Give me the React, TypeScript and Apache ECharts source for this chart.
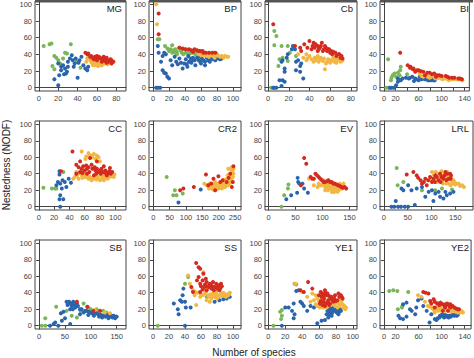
import React, { useEffect, useRef } from 'react';
import * as echarts from 'echarts';

// ---------- data ----------
const panelNames = ['MG', 'BP', 'Cb', 'BI', 'CC', 'CR2', 'EV', 'LRL', 'SB', 'SS', 'YE1', 'YE2'];
const yTicks = [0, 20, 40, 60, 80, 100];

const xTicks20to80 = [0, 20, 40, 60, 80];
const xTicks20to100 = [0, 20, 40, 60, 80, 100];
const xTicks140 = [0, 20, 40, 60, 80, 100, 120, 140];
const xLabels140 = [0, 20, 60, 100, 140];
const xTicks50to150 = [0, 50, 100, 150];
const xTicks50to250 = [0, 50, 100, 150, 200, 250];

const mgGreen = [[5,50],[11,52],[13,53],[33,52],[16,38],[18,36],[14,26],[16,22],[27,42],[29,41],[22,29],[39,31],[43,24],[25,35],[20,33]];
const mgBlue = [[16,10],[20,3],[21,15],[23,21],[25,27],[29,19],[30,31],[32,35],[34,39],[36,25],[37,29],[40,12],[42,33],[44,37],[46,27],[48,23],[50,21],[51,25],[20,29],[23,25],[27,23],[30,25],[35,33],[38,35],[41,30],[26,16],[28,17]];
const mgOrange = [[51,39],[53,33],[55,29],[58,27],[62,29],[65,27],[68,29],[70,29],[49,31],[56,31],[60,30],[63,32],[67,31],[52,37],[56,27],[59,33],[64,30],[61,26],[57,30],[60,28],[63,27],[66,29],[69,30],[71,28],[54,31],[58,32],[62,33],[66,33],[50,35],[55,34]];
const mgRed = [[48,42],[50,40],[58,37],[63,36],[67,37],[70,36],[74,34],[76,31],[75,29],[60,33],[68,32],[72,31],[65,31],[62,37],[56,35],[53,37],[66,34],[71,33],[57,34],[61,35],[64,35],[67,35],[69,34],[73,32],[75,33],[77,31],[54,38],[51,41],[60,38],[70,30]];

const bpGreen = [[6,58],[8,58],[15,50],[24,51],[20,44],[28,42],[35,44],[41,42],[49,42],[57,42],[65,42],[76,42],[33,48],[39,46],[24,42],[45,40],[30,40],[53,40],[18,47],[22,46],[26,45],[30,43],[36,42],[43,44],[47,42],[52,42],[55,41],[60,40],[62,41],[68,40],[72,40],[80,40],[28,46],[38,40]];
const bpBlue = [[4,0],[6,0],[9,0],[6,50],[7,42],[10,31],[12,21],[14,18],[16,17],[18,13],[20,11],[12,38],[14,42],[16,40],[24,27],[29,31],[33,35],[37,23],[39,29],[44,38],[45,31],[49,33],[53,27],[57,33],[61,35],[65,27],[69,33],[73,35],[78,33],[82,35],[65,31],[57,37],[41,34],[50,36],[22,33],[27,37],[31,28],[35,30],[42,28],[47,35],[52,33],[55,36],[59,31],[63,33],[67,36],[71,31],[75,34],[80,36],[84,34],[60,29],[43,25],[48,30],[86,35]];
const bpOrange = [[4,100],[5,76],[57,40],[67,38],[73,40],[82,38],[86,38],[90,38],[94,37],[78,41],[65,40],[88,36],[70,37],[60,39],[63,39],[70,39],[75,38],[80,39],[84,37],[92,37],[77,36]];
const bpRed = [[7,89],[7,64],[33,48],[41,46],[45,46],[55,45],[59,44],[63,42],[70,42],[78,42],[50,43],[37,47],[48,45],[52,46],[57,44],[66,42],[74,42],[62,44]];

const cbGreen = [[6,68],[8,62],[6,51],[13,50],[19,50],[11,34],[14,36],[10,26],[21,42],[19,32],[3,0],[27,38]];
const cbBlue = [[5,0],[6,0],[8,0],[13,2],[11,9],[14,9],[16,7],[16,19],[16,23],[14,33],[13,31],[18,36],[19,40],[23,46],[24,50],[26,46],[27,31],[29,33],[31,26],[32,29],[27,21],[34,11],[31,19]];
const cbOrange = [[29,40],[34,36],[37,33],[40,38],[45,36],[50,34],[53,32],[55,22],[58,34],[61,32],[65,34],[68,35],[71,32],[48,38],[44,31],[63,36],[56,29],[66,30],[37,40],[38,35],[42,34],[46,33],[49,31],[51,36],[54,35],[57,31],[59,33],[62,34],[64,31],[67,33],[69,34],[70,31],[72,33],[60,30],[47,36]];
const cbRed = [[5,76],[26,50],[31,48],[35,52],[40,56],[44,54],[48,50],[50,48],[52,54],[55,50],[58,46],[61,44],[65,42],[68,40],[71,38],[48,44],[42,46],[32,44],[53,44],[60,42],[56,48],[43,50],[46,52],[49,46],[51,50],[54,46],[57,44],[59,46],[62,40],[63,43],[66,38],[69,40],[70,36],[72,35],[38,48],[45,48]];

const biGreen = [[7,34],[12,9],[13,12],[15,15],[18,17],[24,18],[28,21],[29,25],[4,0],[8,0],[21,13],[27,15],[40,16]];
const biBlue = [[10,0],[13,0],[17,0],[21,3],[24,7],[29,9],[32,11],[38,12],[43,11],[49,13],[54,11],[60,9],[65,10],[71,10],[76,9],[82,10],[87,9],[24,11],[52,8],[62,13],[73,13],[85,11],[45,12],[56,10],[68,11],[79,9],[83,9],[88,9]];
const biOrange = [[62,17],[73,15],[85,14],[96,12],[107,11],[118,10],[129,10],[134,10],[101,10],[90,11],[79,12],[68,13],[112,9],[65,14],[76,13],[82,13],[88,12],[93,12],[99,12],[104,11],[110,11],[115,10],[121,10],[126,10],[131,10],[136,9]];
const biRed = [[28,42],[41,27],[46,25],[51,23],[60,21],[68,19],[79,18],[87,17],[96,15],[107,14],[118,12],[129,11],[54,19],[71,15],[90,13],[113,12],[45,24],[50,22],[57,21],[63,20],[75,18],[83,16],[92,15],[100,14],[110,13],[122,12],[132,11],[135,10]];

const ccGreen = [[6,23],[17,22],[21,22],[32,42],[23,22]];
const ccBlue = [[27,43],[27,39],[25,30],[23,26],[28,28],[30,22],[28,14],[27,9],[32,9],[28,0],[34,30],[36,24],[42,29],[39,34],[31,32]];
const ccOrange = [[56,67],[65,65],[69,62],[74,58],[78,60],[80,55],[61,58],[47,36],[52,34],[56,38],[61,36],[65,34],[69,32],[74,36],[78,34],[82,38],[87,36],[91,38],[96,39],[98,36],[85,32],[71,34],[49,42],[45,34],[80,32],[58,44],[90,34],[94,42],[50,38],[53,41],[57,35],[60,39],[63,37],[66,37],[68,35],[72,37],[75,33],[77,37],[83,35],[86,38],[88,35],[92,36],[95,37],[97,38],[99,39],[70,60],[72,64],[67,62],[62,61],[76,62],[84,40],[89,41]];
const ccRed = [[29,43],[44,67],[49,51],[54,55],[58,49],[63,46],[69,51],[74,44],[78,42],[82,46],[87,44],[91,41],[96,42],[54,42],[63,40],[72,38],[81,40],[89,38],[49,40],[67,59],[76,55],[85,49],[93,47],[52,48],[56,46],[60,44],[62,50],[65,48],[70,46],[73,48],[76,46],[80,44],[84,42],[88,40],[92,43],[94,40],[57,41],[66,42],[75,40]];

const cr2Green = [[41,36],[66,20],[61,14],[71,14],[90,16]];
const cr2Blue = [[77,5],[145,21]];
const cr2Orange = [[163,26],[173,28],[184,24],[194,26],[204,24],[214,26],[224,28],[229,32],[235,36],[240,42],[245,46],[240,48],[235,30],[219,24],[199,22],[179,22],[209,30],[189,30],[173,24],[229,46],[245,40],[156,28],[230,38],[215,32],[200,28],[168,26],[178,25],[182,28],[188,26],[193,23],[197,27],[203,27],[207,23],[212,28],[217,27],[222,25],[226,30],[232,34],[237,38],[242,44],[243,36],[238,32],[233,28],[228,26],[210,22],[192,21],[183,21],[170,22],[221,33],[227,38],[236,46]];
const cr2Red = [[82,20],[92,22],[124,24],[161,39],[168,26],[184,34],[199,37],[212,32],[224,30],[235,40],[245,49],[240,24],[189,20],[177,28],[205,30],[230,35],[243,30]];

const evGreen = [[24,0],[29,14],[36,22],[37,27]];
const evBlue = [[33,9],[42,14],[53,17],[54,35],[55,30],[63,28],[66,22],[73,17],[57,28]];
const evOrange = [[75,34],[84,26],[93,28],[99,26],[105,24],[111,22],[117,26],[123,24],[129,22],[135,22],[105,20],[117,18],[126,20],[132,28],[111,28],[102,32],[120,18],[128,26],[114,24],[108,26],[112,25],[115,22],[118,24],[121,22],[124,26],[127,24],[130,20],[133,24],[136,22],[138,24],[110,20],[114,28],[119,29],[125,21],[131,26],[96,26],[103,27],[107,22],[122,18],[128,18],[134,26],[139,28],[91,24]];
const evRed = [[66,59],[70,52],[60,26],[78,36],[87,40],[93,36],[99,32],[105,30],[111,32],[117,30],[123,28],[129,26],[135,24],[141,24],[84,34],[96,34],[102,30],[108,31],[114,30],[120,28],[126,27],[132,25],[138,23],[144,22],[90,38],[81,34]];

const lrlGreen = [[27,47],[29,26],[41,30],[80,20],[108,20],[122,22],[143,21]];
const lrlBlue = [[16,0],[22,0],[30,0],[36,0],[44,0],[51,0],[65,2],[25,7],[37,22],[51,26],[58,20],[69,22],[80,24],[87,12],[94,18],[101,20],[108,16],[118,12],[125,10],[132,14],[139,16],[104,7],[115,18],[129,18],[146,18],[41,20]];
const lrlOrange = [[101,42],[111,40],[118,36],[125,38],[132,36],[139,34],[146,32],[153,28],[164,26],[122,30],[136,28],[108,34],[97,32],[130,40],[145,28],[105,38],[113,38],[117,40],[120,34],[127,35],[129,38],[134,33],[137,37],[141,35],[143,31],[148,30],[150,27],[157,28],[160,25],[168,24],[112,30],[124,28],[131,28],[140,26],[109,42],[121,43],[133,42]];
const lrlRed = [[48,39],[62,42],[69,38],[77,32],[87,34],[97,36],[108,38],[118,40],[129,42],[139,40],[101,30],[115,32],[125,34],[136,34],[90,26],[84,30],[93,32],[104,34],[111,36],[121,36],[127,38],[133,40],[141,38],[107,30],[119,30],[131,32],[140,34],[72,35],[80,28]];

const sbGreen = [[5,0],[12,0],[12,9],[33,23],[53,18],[63,12],[86,27],[95,22],[111,20],[124,18],[73,10],[80,18],[100,20],[115,18],[130,16]];
const sbBlue = [[21,0],[28,2],[31,4],[37,0],[42,15],[47,17],[50,9],[53,29],[57,27],[60,20],[63,24],[66,29],[70,22],[73,27],[79,20],[86,16],[92,18],[99,16],[105,14],[111,15],[118,13],[124,12],[131,13],[137,11],[144,12],[150,11],[60,2],[44,6],[79,14],[95,13],[134,9],[147,9],[55,25],[62,27],[68,25],[75,24],[82,20],[89,18],[96,17],[102,15],[108,16],[114,14],[120,13],[127,13],[134,12],[140,12],[142,10],[146,11],[116,11],[122,10],[106,12],[128,11],[58,29],[65,20]];
const sbOrange = [[108,19],[118,18],[127,16],[137,15]];
const sbRed = [[73,29],[93,23],[105,18],[118,18]];

const ssGreen = [[6,0],[44,59],[40,51],[67,35]];
const ssBlue = [[40,0],[26,27],[31,20],[32,14],[34,31],[36,29],[38,45],[37,37],[40,29],[47,22],[41,22],[77,29],[83,31],[88,32],[92,33],[96,35]];
const ssOrange = [[44,61],[63,65],[46,51],[50,43],[52,37],[59,35],[65,39],[69,37],[73,33],[77,35],[81,37],[85,39],[89,37],[93,38],[96,40],[91,35],[79,41],[71,29],[54,25],[67,31],[75,39],[62,37],[66,41],[70,35],[72,38],[75,36],[78,37],[80,33],[83,36],[86,36],[88,40],[90,38],[92,36],[94,37],[95,38],[60,38],[56,40],[53,41],[68,45]];
const ssRed = [[54,76],[57,71],[59,69],[63,63],[55,55],[59,51],[64,47],[67,53],[71,51],[75,53],[79,51],[81,47],[83,43],[48,47],[50,41],[67,43],[73,45],[59,41],[85,51],[60,48],[62,55],[65,50],[68,48],[70,47],[72,50],[74,48],[77,47],[80,45],[82,49],[84,45],[86,48],[76,43],[62,44],[57,59],[66,57]];

const ye1Green = [[6,0],[14,17],[16,19],[15,8],[16,12],[31,51],[33,50]];
const ye1Blue = [[16,0],[20,22],[24,22],[28,18],[30,9],[31,14],[33,42],[36,43],[30,27],[38,29],[40,27],[42,24],[46,18],[50,24],[54,22],[58,3],[63,6],[67,7],[69,14],[73,16],[77,18],[81,16],[85,20],[75,22],[79,22],[71,10],[83,14],[70,18],[72,20],[74,20],[76,16],[78,20],[80,18],[82,20],[84,17],[86,18],[72,14],[75,12]];
const ye1Orange = [[32,51],[40,41],[46,35],[50,29],[54,31],[56,37],[58,33],[61,22],[65,22],[69,22],[71,31],[79,24],[83,27],[87,31],[89,22],[91,20],[85,35],[60,29],[52,39],[56,26],[58,24],[62,25],[66,25],[70,24],[74,25],[78,26],[82,22],[84,24],[86,27],[88,26],[90,24],[92,22],[80,28],[63,33],[67,30]];
const ye1Red = [[47,53],[38,43],[42,41],[52,45],[60,37],[63,35],[67,43],[69,37],[71,31],[65,29],[61,27],[75,35],[79,37],[83,39],[87,35],[73,27],[67,24],[77,29],[62,41],[64,39],[66,37],[68,40],[70,39],[72,36],[74,33],[76,31],[78,33],[80,30],[82,31],[84,35],[86,37],[88,33],[66,33],[70,28],[72,25],[62,30],[64,25],[68,27]];

const ye2Green = [[9,42],[16,43],[23,42],[42,41],[24,20],[31,22],[32,24]];
const ye2Blue = [[25,12],[28,9],[33,8],[39,11],[33,26],[39,28],[45,20],[48,18],[54,14],[59,31],[65,33],[68,24],[74,18],[79,4],[88,8],[91,7],[97,12],[103,12],[108,11],[114,12],[120,13],[126,12],[56,22],[82,14],[96,10],[100,12],[104,10],[106,13],[110,12],[112,10],[116,11],[118,13],[122,12],[124,14],[128,13],[101,14],[93,9]];
const ye2Orange = [[59,37],[65,35],[71,29],[76,24],[85,20],[94,18],[100,20],[108,20],[117,19],[122,18],[128,16],[134,18],[137,16],[88,16],[97,22],[79,23],[83,22],[87,19],[90,20],[96,19],[99,18],[103,20],[106,18],[110,19],[113,20],[116,17],[120,19],[124,17],[126,18],[130,18],[132,16],[135,17],[92,22]];
const ye2Red = [[68,41],[77,39],[82,27],[88,29],[94,27],[100,26],[105,24],[111,26],[117,24],[122,22],[128,20],[102,18],[111,18],[88,22],[92,27],[96,25],[98,28],[103,26],[107,25],[109,27],[113,24],[115,26],[119,24],[125,21],[130,20],[106,22],[115,22],[86,32],[72,40],[80,30]];

const panelGreen = [mgGreen, bpGreen, cbGreen, biGreen, ccGreen, cr2Green, evGreen, lrlGreen, sbGreen, ssGreen, ye1Green, ye2Green];
const panelBlue = [mgBlue, bpBlue, cbBlue, biBlue, ccBlue, cr2Blue, evBlue, lrlBlue, sbBlue, ssBlue, ye1Blue, ye2Blue];
const panelOrange = [mgOrange, bpOrange, cbOrange, biOrange, ccOrange, cr2Orange, evOrange, lrlOrange, sbOrange, ssOrange, ye1Orange, ye2Orange];
const panelRed = [mgRed, bpRed, cbRed, biRed, ccRed, cr2Red, evRed, lrlRed, sbRed, ssRed, ye1Red, ye2Red];

const panelXTicks = [xTicks20to80, xTicks20to100, xTicks20to80, xTicks140, xTicks20to100, xTicks50to250, xTicks50to150, xTicks50to150, xTicks50to150, xTicks20to100, xTicks20to100, xTicks140];
const panelXLabels = [xTicks20to80, xTicks20to100, xTicks20to80, xLabels140, xTicks20to100, xTicks50to250, xTicks50to150, xTicks50to150, xTicks50to150, xTicks20to100, xTicks20to100, xLabels140];

// ---------- layout ----------
const xRanges = [[-4, 90], [-5, 110], [-3, 86], [-7, 148], [-5, 114], [-13, 268], [-6.5, 164], [-8, 187], [-8, 168], [-5, 110], [-4, 105], [-7, 151]];
const colLeft = [35, 149, 265, 380];
const colWidth = [91, 92, 92, 93];
const rowTop = [1, 121, 240];
const rowHeight = [90, 89, 89];

const COLORS = { blue: '#2a64ac', green: '#79b657', orange: '#f2b742', red: '#d32b1f' };
const FONT = 'Liberation Sans, Arial, Helvetica, sans-serif';
const AXIS_COLOR = '#444';

export default function App() {
  const ref = useRef<HTMLDivElement>(null);
  useEffect(() => {
    if (!ref.current) return;
    const chart = echarts.init(ref.current, undefined, { renderer: 'svg' });
    const grid: any[] = [];
    const xAxis: any[] = [];
    const yAxis: any[] = [];
    const series: any[] = [];
    const graphic: any[] = [];
    panelNames.forEach((name, i) => {
      const r = Math.floor(i / 4);
      const c = i % 4;
      grid.push({
        left: colLeft[c], top: rowTop[r], width: colWidth[c], height: rowHeight[r],
        show: true, borderColor: AXIS_COLOR, borderWidth: 1, backgroundColor: 'transparent',
      });
      xAxis.push({
        type: 'value', gridIndex: i, min: xRanges[i][0], max: xRanges[i][1],
        splitLine: { show: false },
        axisLine: { show: true, lineStyle: { color: AXIS_COLOR, width: 1 } },
        axisTick: { show: true, length: 3, lineStyle: { color: AXIS_COLOR }, customValues: panelXTicks[i] },
        axisLabel: { customValues: panelXLabels[i], fontSize: 7.5, color: '#444', margin: 3, fontFamily: FONT },
      });
      yAxis.push({
        type: 'value', gridIndex: i, min: -4, max: 104,
        splitLine: { show: false },
        axisLine: { show: true, lineStyle: { color: AXIS_COLOR, width: 1 } },
        axisTick: { show: true, length: 3, lineStyle: { color: AXIS_COLOR }, customValues: yTicks },
        axisLabel: { customValues: yTicks, fontSize: 7.5, color: '#444', margin: 3, fontFamily: FONT },
      });
      const groups: [number[][], string][] = [
        [panelGreen[i], COLORS.green],
        [panelBlue[i], COLORS.blue],
        [panelOrange[i], COLORS.orange],
        [panelRed[i], COLORS.red],
      ];
      groups.forEach(([data, color]) => {
        series.push({
          type: 'scatter', xAxisIndex: i, yAxisIndex: i, data,
          symbolSize: 4, itemStyle: { color, opacity: 1 }, silent: true,
        });
      });
      graphic.push({
        type: 'text', x: colLeft[c] + colWidth[c] - 4, y: rowTop[r] + 7,
        style: { text: name, fontSize: 9.5, fontFamily: FONT, fill: '#222', align: 'right', verticalAlign: 'middle' },
        silent: true,
      });
      if (r === 0) {
        graphic.push({
          type: 'rect', shape: { x: colLeft[c], y: 0, width: colWidth[c], height: 2.5 },
          style: { fill: '#555' }, silent: true,
        });
      }
    });
    graphic.push({
      type: 'text', x: 254, y: 352,
      style: { text: 'Number of species', fontSize: 10, fontFamily: FONT, fill: '#222', align: 'center', verticalAlign: 'middle' },
    });
    graphic.push({
      type: 'text', x: 6, y: 165, rotation: Math.PI / 2,
      style: { text: 'Nestedness (NODF)', fontSize: 10, fontFamily: FONT, fill: '#222', align: 'center', verticalAlign: 'middle' },
    });
    chart.setOption({
      animation: false,
      backgroundColor: '#fff',
      grid, xAxis, yAxis, series, graphic,
    });
    return () => chart.dispose();
  }, []);
  return <div ref={ref} style={{ position: 'absolute', left: 0, top: 0, width: 474, height: 358 }} />;
}
